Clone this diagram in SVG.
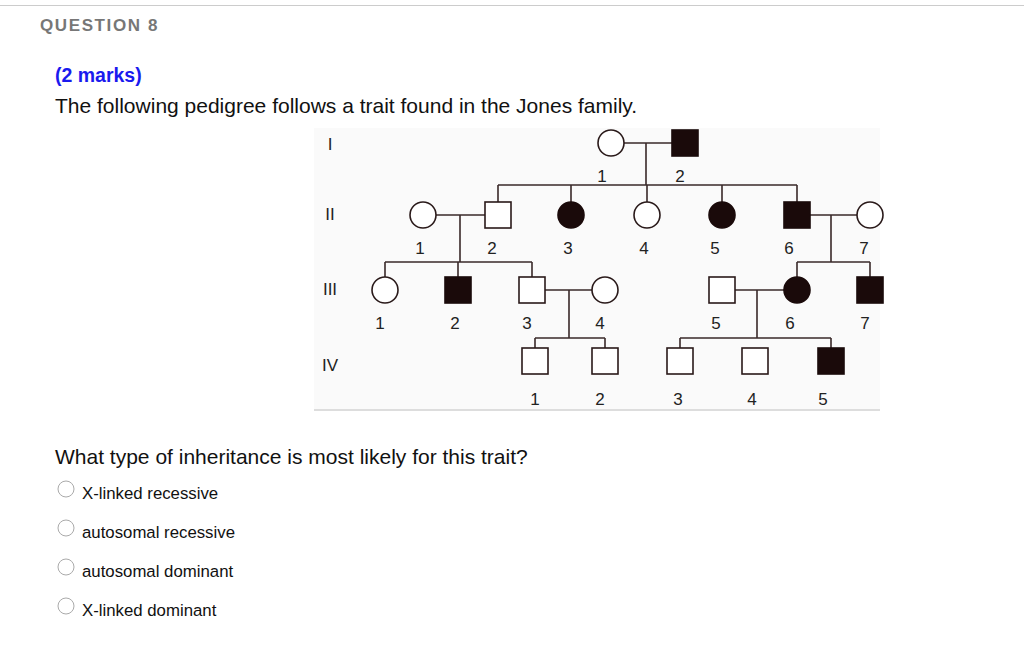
<svg xmlns="http://www.w3.org/2000/svg" width="1024" height="672" viewBox="0 0 1024 672">
<style>
.s{fill:#fff;stroke:#2a1a1a;stroke-width:1.6}
.a{fill:#1a0a0a;stroke:#1a0a0a;stroke-width:1.6}
.l{stroke:#3a2a2a;stroke-width:1.6;fill:none}
.n{font-family:"Liberation Sans",Arial,sans-serif;font-size:17px;fill:#222;text-anchor:middle}
.t{font-family:"Liberation Sans",Arial,sans-serif;fill:#111}
.r{fill:#fff;stroke:#aaa;stroke-width:1}
</style>
<rect width="1024" height="672" fill="#fff"/>
<line x1="0" y1="5.5" x2="1024" y2="5.5" stroke="#ccc"/>
<text x="40" y="31" class="t" font-size="17" font-weight="bold" style="fill:#777;letter-spacing:1.6px">QUESTION 8</text>
<text x="55" y="82" class="t" font-size="19.5" font-weight="bold" style="fill:#1a1aee">(2 marks)</text>
<text x="55" y="113" class="t" font-size="21">The following pedigree follows a trait found in the Jones family.</text>
<rect x="314" y="128" width="566" height="282" fill="#fafafa"/>
<line x1="314" y1="410" x2="880" y2="410" stroke="#ddd" stroke-width="2"/>
<g class="n">
<text x="330" y="150">I</text><text x="330" y="220">II</text><text x="330" y="295">III</text><text x="330" y="371">IV</text>
</g>
<g id="connectors" class="l">
<path d="M624 143H672M646 143V185M498 185H797M498 185V202M797 185V202M571 185V203M647 185V203M722 185V203"/>
<path d="M436 215H485M460 215V262M385 262H532M385 262V277M458 262V277M532 262V277"/>
<path d="M808 215H857M831 215V262M797 262H870M797 262V277M870 262V277"/>
<path d="M545 290H592M569 290V338M535 338H605M535 338V348M605 338V348"/>
<path d="M735 290H784M757 290V338M680 338H831M680 338V348M831 338V348"/>
</g>
<g id="I1"><circle class="s" cx="611" cy="143" r="13"/><text class="n" x="602" y="182">1</text></g>
<g id="I2"><rect class="a" x="672" y="130" width="26" height="26"/><text class="n" x="680" y="182">2</text></g>
<g id="II1"><circle class="s" cx="423" cy="215" r="13"/><text class="n" x="420" y="254">1</text></g>
<g id="II2"><rect class="s" x="485" y="202" width="26" height="26"/><text class="n" x="492" y="254">2</text></g>
<g id="II3"><circle class="a" cx="571" cy="215" r="13"/><text class="n" x="568" y="254">3</text></g>
<g id="II4"><circle class="s" cx="647" cy="215" r="13"/><text class="n" x="644" y="254">4</text></g>
<g id="II5"><circle class="a" cx="722" cy="215" r="13"/><text class="n" x="715" y="254">5</text></g>
<g id="II6"><rect class="a" x="784" y="202" width="26" height="26"/><text class="n" x="789" y="254">6</text></g>
<g id="II7"><circle class="s" cx="870" cy="215" r="13"/><text class="n" x="864" y="254">7</text></g>
<g id="III1"><circle class="s" cx="385" cy="290" r="13"/><text class="n" x="380" y="329">1</text></g>
<g id="III2"><rect class="a" x="445" y="277" width="26" height="26"/><text class="n" x="455" y="329">2</text></g>
<g id="III3"><rect class="s" x="519" y="277" width="26" height="26"/><text class="n" x="527" y="329">3</text></g>
<g id="III4"><circle class="s" cx="605" cy="290" r="13"/><text class="n" x="600" y="329">4</text></g>
<g id="III5"><rect class="s" x="709" y="277" width="26" height="26"/><text class="n" x="716" y="329">5</text></g>
<g id="III6"><circle class="a" cx="797" cy="290" r="13"/><text class="n" x="790" y="329">6</text></g>
<g id="III7"><rect class="a" x="857" y="277" width="26" height="26"/><text class="n" x="865" y="329">7</text></g>
<g id="IV1"><rect class="s" x="522" y="348" width="26" height="26"/><text class="n" x="535" y="405">1</text></g>
<g id="IV2"><rect class="s" x="592" y="348" width="26" height="26"/><text class="n" x="600" y="405">2</text></g>
<g id="IV3"><rect class="s" x="667" y="348" width="26" height="26"/><text class="n" x="678" y="405">3</text></g>
<g id="IV4"><rect class="s" x="742" y="348" width="26" height="26"/><text class="n" x="752" y="405">4</text></g>
<g id="IV5"><rect class="a" x="818" y="348" width="26" height="26"/><text class="n" x="823" y="405">5</text></g>
<text x="55" y="464" class="t" font-size="21">What type of inheritance is most likely for this trait?</text>
<circle class="r" cx="66" cy="489" r="8"/><text x="82" y="499" class="t" font-size="16.8">X-linked recessive</text>
<circle class="r" cx="66" cy="528" r="8"/><text x="82" y="538" class="t" font-size="16.8">autosomal recessive</text>
<circle class="r" cx="66" cy="567" r="8"/><text x="82" y="577" class="t" font-size="16.8">autosomal dominant</text>
<circle class="r" cx="66" cy="606" r="8"/><text x="82" y="616" class="t" font-size="16.8">X-linked dominant</text>
</svg>
